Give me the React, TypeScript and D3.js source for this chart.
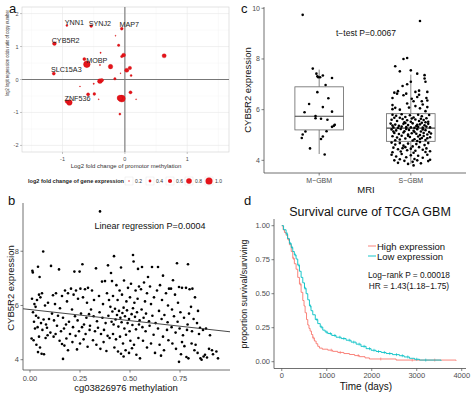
import React from "react";
import * as d3 from "d3";

const FONT = "'Liberation Sans', Arial, Helvetica, sans-serif";

// ---------------- Panel a data ----------------
const geneLabels = ["YNN1", "SYNJ2", "MAP7", "CYB5R2", "MOBP", "SLC15A3", "ZNF536"];
const geneLabelX = [-0.81, -0.4, 0.07, -0.95, -0.45, -0.94, -0.76];
const geneLabelY = [1.73, 1.71, 1.66, 1.19, 0.58, 0.29, -0.58];
const methFold = [-0.93, -0.54, -0.05, -1.13, -0.15, -0.1, -0.39, -0.02, -0.05, 0.63, -0.65, -0.61, -0.4, -0.23, 0.08, 0.03, -0.07, 0.1, -1.14, -0.16, -0.4, -0.37, -0.72, -0.5, -0.59, -0.49, -0.42, -0.05, -0.08, 0.09, 0.18, -0.89, -0.93, -0.08];
const cnOdds = [1.64, 1.62, 1.54, 1.09, 1.33, 1.04, 0.81, 0.74, 0.7, 0.72, 0.62, 0.46, 0.44, 0.39, 0.35, 0.28, 0.19, 0.12, 0.18, 0.02, -0.05, -0.02, -0.21, -0.13, -0.45, -0.44, -0.6, -0.58, -0.56, -0.39, -0.6, -0.7, -0.67, -1.05];
const exprFold = [0.3, 0.4, 0.4, 0.55, 0.15, 0.35, 0.2, 0.55, 0.35, 0.6, 0.45, 0.95, 0.2, 0.65, 0.5, 0.6, 0.15, 0.3, 0.45, 0.35, 0.7, 0.5, 0.15, 0.2, 0.45, 0.4, 0.15, 1.0, 0.8, 0.45, 0.15, 0.8, 0.5, 0.3];
const sizeBreaks = [0.2, 0.4, 0.6, 0.8, 1.0];
const aTicksX = [-1, 0, 1];
const aTicksY = [-2, -1, 0, 1, 2];

// ---------------- Panel b data ----------------
const methPoints: [number, number][] = [
  [0.012, 7.28], [0.014, 7.22], [0.04, 7.43], [0.048, 7.05], [0.066, 7.99],
  [0.01, 6.25], [0.022, 6.05], [0.035, 6.2], [0.045, 6.4], [0.06, 6.45], [0.028, 5.95], [0.052, 6.3], [0.075, 6.0], [0.09, 6.1],
  [0.015, 5.75], [0.03, 5.62], [0.02, 5.4], [0.042, 5.55], [0.055, 5.35], [0.068, 5.48], [0.08, 5.3], [0.095, 5.5], [0.038, 5.2], [0.025, 5.15], [0.062, 5.1], [0.085, 5.18],
  [0.008, 4.78], [0.018, 4.72], [0.045, 4.85], [0.032, 4.55], [0.04, 4.28], [0.058, 4.22], [0.07, 4.2], [0.05, 4.45], [0.088, 4.9], [0.078, 4.8],
  [0.105, 7.46], [0.145, 7.33], [0.115, 6.38], [0.13, 6.45], [0.16, 6.35], [0.175, 6.55], [0.19, 6.45], [0.125, 6.05], [0.15, 5.9], [0.185, 6.15],
  [0.11, 5.7], [0.12, 5.45], [0.14, 5.62], [0.165, 5.55], [0.18, 5.3], [0.195, 5.4], [0.135, 5.25], [0.155, 5.05], [0.17, 5.15], [0.102, 5.0],
  [0.118, 4.85], [0.128, 4.95], [0.148, 4.7], [0.16, 4.58], [0.172, 4.52], [0.182, 4.78], [0.165, 4.03], [0.19, 4.35], [0.2, 4.95],
  [0.222, 7.25], [0.248, 7.25], [0.262, 7.52], [0.205, 6.62], [0.218, 6.4], [0.23, 6.55], [0.252, 6.62], [0.275, 6.6], [0.29, 6.65], [0.24, 6.25], [0.265, 6.3], [0.285, 6.1],
  [0.21, 5.85], [0.225, 5.6], [0.238, 5.45], [0.255, 5.7], [0.27, 5.3], [0.282, 5.55], [0.295, 5.68], [0.215, 5.2], [0.245, 5.05], [0.26, 5.2], [0.278, 4.95], [0.298, 5.1],
  [0.228, 4.88], [0.25, 4.6], [0.235, 4.38], [0.268, 4.75], [0.288, 4.48], [0.212, 4.65],
  [0.35, 9.47], [0.33, 7.37], [0.39, 7.48], [0.36, 6.88], [0.375, 6.9], [0.31, 6.55], [0.32, 6.2], [0.345, 6.35], [0.365, 6.05], [0.385, 6.45], [0.395, 6.2],
  [0.305, 5.85], [0.318, 5.6], [0.335, 5.42], [0.348, 5.75], [0.362, 5.55], [0.378, 5.35], [0.392, 5.62], [0.3, 5.25], [0.325, 5.05], [0.34, 5.18], [0.355, 4.95], [0.37, 5.1], [0.388, 4.88],
  [0.315, 4.72], [0.332, 4.55], [0.352, 4.4], [0.368, 4.65], [0.382, 4.32], [0.398, 4.8],
  [0.42, 7.82], [0.515, 7.86], [0.518, 7.62], [0.405, 7.2], [0.455, 7.4], [0.54, 7.35],
  [0.41, 6.9], [0.432, 6.75], [0.448, 6.55], [0.47, 6.92], [0.49, 6.65], [0.505, 6.8], [0.528, 6.55], [0.545, 6.7], [0.415, 6.35], [0.438, 6.2], [0.46, 6.4], [0.482, 6.15], [0.5, 6.3], [0.522, 6.1], [0.538, 6.25],
  [0.402, 5.95], [0.412, 5.78], [0.425, 5.88], [0.435, 5.65], [0.445, 5.8], [0.452, 5.55], [0.462, 5.72], [0.468, 5.92], [0.475, 5.6], [0.485, 5.82], [0.495, 5.5], [0.508, 5.68], [0.515, 5.9], [0.525, 5.58], [0.535, 5.75], [0.548, 5.45],
  [0.408, 5.4], [0.418, 5.3], [0.428, 5.48], [0.442, 5.22], [0.458, 5.38], [0.472, 5.15], [0.488, 5.35], [0.498, 5.05], [0.512, 5.28], [0.53, 5.12], [0.545, 5.3],
  [0.415, 4.95], [0.43, 4.75], [0.45, 4.85], [0.465, 4.6], [0.48, 4.92], [0.502, 4.7], [0.52, 4.55], [0.542, 4.8],
  [0.422, 4.45], [0.44, 4.3], [0.455, 4.22], [0.468, 4.12], [0.478, 4.35], [0.495, 4.25], [0.51, 4.42], [0.532, 4.18], [0.55, 4.05],
  [0.56, 7.42], [0.61, 7.42], [0.64, 7.42], [0.59, 7.05], [0.665, 7.1],
  [0.555, 6.6], [0.57, 6.85], [0.585, 6.45], [0.6, 6.7], [0.62, 6.3], [0.635, 6.55], [0.65, 6.75], [0.68, 6.45], [0.695, 6.62], [0.575, 6.15], [0.605, 6.05], [0.66, 6.2], [0.69, 6.0],
  [0.558, 5.85], [0.568, 5.55], [0.58, 5.7], [0.595, 5.42], [0.612, 5.62], [0.628, 5.35], [0.645, 5.8], [0.658, 5.5], [0.672, 5.65], [0.688, 5.38],
  [0.562, 5.2], [0.578, 5.05], [0.598, 5.25], [0.618, 4.92], [0.64, 5.15], [0.665, 4.85], [0.685, 5.1],
  [0.565, 4.7], [0.585, 4.45], [0.605, 4.6], [0.625, 4.25], [0.648, 4.55], [0.67, 4.35], [0.692, 4.72], [0.655, 4.15],
  [0.735, 7.56], [0.79, 7.52], [0.715, 6.93], [0.705, 6.62], [0.725, 6.4], [0.745, 6.68], [0.76, 6.65], [0.78, 6.65], [0.798, 6.6], [0.74, 6.1],
  [0.71, 5.85], [0.72, 5.6], [0.738, 5.4], [0.752, 5.75], [0.77, 5.55], [0.788, 5.3], [0.795, 5.7],
  [0.708, 5.2], [0.728, 5.0], [0.748, 5.15], [0.765, 4.9], [0.785, 5.1],
  [0.712, 4.6], [0.73, 4.4], [0.745, 3.92], [0.755, 4.2], [0.772, 4.5], [0.782, 4.1], [0.792, 4.05], [0.76, 4.65],
  [0.812, 6.62], [0.825, 6.3], [0.84, 5.8], [0.805, 5.95], [0.818, 5.5], [0.835, 5.35], [0.85, 5.18], [0.865, 5.1], [0.88, 5.15], [0.81, 5.05], [0.845, 4.95], [0.9, 4.9],
  [0.808, 4.6], [0.822, 4.35], [0.838, 4.25], [0.852, 4.05], [0.858, 4.0], [0.868, 4.12], [0.875, 4.18], [0.885, 4.08], [0.895, 4.4], [0.91, 4.35], [0.932, 4.3], [0.94, 4.05], [0.828, 4.55], [0.915, 4.2],
];
const regIntercept = 5.85;
const regSlope = -0.82;
const bTicksX = [0, 0.25, 0.5, 0.75];
const bTicksY = [4, 6, 8];

// ---------------- Panel c data ----------------
const mriGroups = ["M\u2212GBM", "S\u2212GBM"];
// [q1, median, q3, whiskerLow, whiskerHigh]
const boxM = [5.2, 5.74, 6.9, 4.25, 7.58];
const boxS = [4.75, 5.27, 5.84, 3.85, 7.38];
const mgbmPoints: [number, number][] = [
  [-0.18, 9.74], [-0.07, 7.62], [-0.03, 7.42], [-0.02, 7.32], [-0.01, 7.28], [0.01, 7.28], [0.04, 7.35], [0.14, 7.25], [0.07, 6.97], [-0.02, 6.69],
  [0.1, 6.45], [-0.11, 6.22], [0.04, 6.1], [-0.16, 5.9], [0.14, 5.92], [-0.04, 5.75], [-0.04, 5.66], [0.02, 5.64], [0.09, 5.6], [0.17, 5.4],
  [0.14, 5.32], [0.16, 5.36], [0.08, 5.15], [-0.15, 5.14], [-0.18, 5.02], [-0.19, 4.88], [0.04, 4.94], [0.02, 4.84], [-0.1, 4.47], [0.06, 4.23],
];
const sgbmPoints: [number, number][] = [
  [0.1, 9.5], [-0.08, 8.0], [-0.04, 8.04],
  [-0.17, 7.71], [-0.12, 7.51], [0.0, 7.55], [0.07, 7.42], [0.15, 7.36], [0.15, 7.23], [0.16, 7.1],
  [-0.09, 6.93], [-0.04, 7.0], [0.0, 7.1],
  [-0.14, 6.73], [-0.18, 6.67], [-0.15, 6.63], [0.05, 6.7], [0.09, 6.75], [0.09, 6.59], [0.07, 6.5], [-0.08, 6.57], [-0.05, 6.63], [0.18, 6.7], [0.17, 6.46], [0.18, 6.36], [-0.2, 6.46], [0.01, 6.43], [0.03, 6.33], [0.12, 6.33], [-0.04, 6.24],
  [-0.2, 6.18], [-0.17, 6.07], [0.05, 6.14], [0.18, 6.1], [0.16, 5.94], [-0.12, 6.0], [-0.2, 6.02], [0.1, 6.05], [-0.02, 6.08], [0.13, 6.2],
  [-0.2, 5.8], [-0.16, 5.76], [-0.1, 5.82], [-0.06, 5.71], [-0.01, 5.78], [0.03, 5.69], [0.08, 5.8], [0.12, 5.74], [0.17, 5.66], [0.2, 5.79],
  [-0.21, 5.6], [-0.15, 5.55], [-0.09, 5.63], [-0.04, 5.58], [0.0, 5.52], [0.05, 5.61], [0.09, 5.55], [0.14, 5.59], [0.19, 5.52], [-0.12, 5.68],
  [-0.18, 5.68], [0.01, 5.65], [0.11, 5.64], [-0.07, 5.5], [0.16, 5.5],
  [-0.22, 5.45], [-0.17, 5.41], [-0.13, 5.36], [-0.08, 5.44], [-0.03, 5.39], [0.02, 5.46], [0.06, 5.35], [0.1, 5.42], [0.15, 5.38], [0.19, 5.44],
  [-0.19, 5.3], [-0.14, 5.28], [-0.1, 5.33], [-0.05, 5.31], [0.0, 5.3], [0.04, 5.28], [0.08, 5.32], [0.13, 5.29], [0.17, 5.33], [0.21, 5.3],
  [-0.06, 5.47], [0.12, 5.48], [-0.2, 5.37], [0.07, 5.4],
  [-0.21, 5.22], [-0.16, 5.18], [-0.11, 5.24], [-0.07, 5.15], [-0.02, 5.2], [0.03, 5.17], [0.07, 5.23], [0.11, 5.14], [0.16, 5.19], [0.2, 5.12],
  [-0.18, 5.08], [-0.13, 5.04], [-0.08, 5.1], [-0.03, 5.02], [0.01, 5.07], [0.06, 5.05], [0.1, 5.0], [0.14, 5.08], [0.18, 5.02], [0.22, 5.06],
  [-0.05, 5.24], [0.13, 5.22], [-0.19, 5.14], [0.04, 5.12],
  [-0.2, 4.95], [-0.15, 4.9], [-0.1, 4.97], [-0.06, 4.86], [-0.01, 4.92], [0.04, 4.83], [0.08, 4.94], [0.12, 4.88], [0.16, 4.8], [0.21, 4.91],
  [-0.17, 4.79], [-0.12, 4.82], [0.02, 4.78], [0.07, 4.76], [0.14, 4.96], [-0.03, 4.97], [0.1, 4.84], [0.18, 4.87],
  [-0.21, 4.7], [-0.17, 4.62], [-0.12, 4.68], [-0.08, 4.58], [-0.03, 4.66], [0.02, 4.55], [0.06, 4.64], [0.1, 4.72], [0.15, 4.6], [0.19, 4.68],
  [-0.19, 4.5], [-0.14, 4.44], [-0.09, 4.48], [-0.04, 4.4], [0.0, 4.46], [0.05, 4.38], [0.09, 4.52], [0.13, 4.42], [0.17, 4.47], [0.21, 4.36],
  [-0.2, 4.32], [-0.11, 4.35], [0.03, 4.3], [0.16, 4.33], [-0.06, 4.52],
  [-0.21, 4.22], [-0.16, 4.15], [-0.1, 4.25], [-0.05, 4.12], [0.0, 4.2], [0.04, 4.05], [0.08, 4.18], [0.13, 4.1], [0.18, 4.22], [0.21, 4.02],
  [-0.18, 4.0], [-0.12, 4.04], [-0.07, 3.98], [0.02, 3.94], [0.07, 4.0], [0.19, 3.97], [-0.14, 3.9], [0.03, 3.8], [-0.03, 3.86], [0.11, 3.88],
];
const cTicksY = [4, 6, 8, 10];

// ---------------- Panel d data ----------------
const highTime = [0, 30, 60, 96, 130, 170, 210, 244, 280, 318, 355, 393, 430, 467, 495, 519, 550, 578, 605, 630, 660, 689, 725, 763, 800, 837, 900, 1022, 1130, 1244, 1380, 1504, 1620, 1726, 1850, 1948, 2541, 3874];
const highSurv = [1.0, 0.97, 0.95, 0.93, 0.9, 0.86, 0.81, 0.76, 0.72, 0.68, 0.62, 0.57, 0.51, 0.45, 0.41, 0.36, 0.31, 0.27, 0.245, 0.225, 0.2, 0.175, 0.152, 0.132, 0.113, 0.1, 0.092, 0.085, 0.076, 0.068, 0.06, 0.053, 0.045, 0.037, 0.028, 0.02, 0.012, 0.007];
const lowTime = [0, 40, 96, 130, 170, 210, 244, 280, 318, 355, 393, 430, 467, 505, 541, 578, 615, 650, 689, 745, 800, 855, 911, 965, 1022, 1110, 1207, 1320, 1430, 1540, 1652, 1760, 1874, 1985, 2096, 2210, 2319, 2460, 2615, 2720, 2837, 2950, 3059, 3541];
const lowSurv = [1.0, 0.97, 0.94, 0.905, 0.87, 0.84, 0.81, 0.785, 0.755, 0.71, 0.665, 0.62, 0.58, 0.54, 0.5, 0.455, 0.41, 0.375, 0.345, 0.31, 0.28, 0.255, 0.232, 0.218, 0.207, 0.193, 0.18, 0.17, 0.158, 0.144, 0.129, 0.113, 0.096, 0.084, 0.075, 0.068, 0.06, 0.052, 0.044, 0.035, 0.025, 0.018, 0.012, 0.007];
const highCensor = [150, 260, 420, 700, 1100, 1300, 1700, 2200, 2900, 3400];
const lowCensor = [120, 190, 230, 300, 380, 520, 640, 780, 880, 1000, 1080, 1180, 1290, 1380, 1500, 1600, 1720, 1830, 1950, 2050, 2150, 2280, 2400, 2550, 2680, 2800, 3000, 3200];
const dTicksX = [0, 1000, 2000, 3000, 4000];
const dTicksY = [0, 0.25, 0.5, 0.75, 1.0];
const survLegend = ["High expression", "Low expression"];
const survColors = ["#F8766D", "#00BFC4"];

const AXIS = "#4d4d4d";
const TICKTXT = "#4d4d4d";

function PanelA() {
  const x = d3.scaleLinear().domain([-1.65, 1.67]).range([22, 229]);
  const y = d3.scaleLinear().domain([-2.2, 2.2]).range([152, 7]);
  const r = d3.scaleLinear().domain([0.2, 1.0]).range([0.7, 3.5]);
  const minorX = [-1.5, -0.5, 0.5, 1.5];
  const minorY = [-1.5, -0.5, 0.5, 1.5];
  const legKeyX = [129, 150, 170, 189, 209];
  return (
    <g fontFamily={FONT}>
      <rect x={22} y={7} width={207} height={145} fill="#fff" />
      {minorX.map((v) => <line key={"mx" + v} x1={x(v)} x2={x(v)} y1={7} y2={152} stroke="#f2f2f2" strokeWidth={0.4} />)}
      {minorY.map((v) => <line key={"my" + v} x1={22} x2={229} y1={y(v)} y2={y(v)} stroke="#f2f2f2" strokeWidth={0.4} />)}
      {aTicksX.map((v) => <line key={"gx" + v} x1={x(v)} x2={x(v)} y1={7} y2={152} stroke="#e8e8e8" strokeWidth={0.6} />)}
      {aTicksY.map((v) => <line key={"gy" + v} x1={22} x2={229} y1={y(v)} y2={y(v)} stroke="#e8e8e8" strokeWidth={0.6} />)}
      <rect x={22} y={7} width={207} height={145} fill="none" stroke="#cfcfcf" strokeWidth={0.6} />
      <line x1={x(0)} x2={x(0)} y1={7} y2={152} stroke="#777" strokeWidth={1.1} />
      <line x1={22} x2={229} y1={y(0)} y2={y(0)} stroke="#777" strokeWidth={1.1} />
      {methFold.map((v, i) => (
        <circle key={"p" + i} cx={x(v)} cy={y(cnOdds[i])} r={r(exprFold[i])} fill="#e4141b" stroke="#c00" strokeWidth={0.3} />
      ))}
      {geneLabels.map((g, i) => (
        <text key={g} x={x(geneLabelX[i])} y={y(geneLabelY[i])} fontSize={7.2} fill="#222" textAnchor="middle" dominantBaseline="central">{g}</text>
      ))}
      {aTicksX.map((v) => (
        <g key={"tx" + v}>
          <line x1={x(v)} x2={x(v)} y1={152} y2={154} stroke="#888" strokeWidth={0.5} />
          <text x={x(v)} y={158.5} fontSize={5.5} fill={TICKTXT} textAnchor="middle" dominantBaseline="central">{v}</text>
        </g>
      ))}
      {aTicksY.map((v) => (
        <g key={"ty" + v}>
          <line x1={20} x2={22} y1={y(v)} y2={y(v)} stroke="#888" strokeWidth={0.5} />
          <text x={18.5} y={y(v)} fontSize={5.5} fill={TICKTXT} textAnchor="end" dominantBaseline="central">{v}</text>
        </g>
      ))}
      <text x={126} y={165.5} fontSize={6} fill="#333" textAnchor="middle" dominantBaseline="central">Log2 fold change of promotor methylation</text>
      <text transform="translate(7,53) rotate(-90)" fontSize={4.6} fill="#333" textAnchor="middle" dominantBaseline="central" textLength={86} lengthAdjust="spacingAndGlyphs">log2 logit regression odds ratio of copy number</text>
      <text x={28} y={181} fontSize={5} fontWeight="bold" fill="#222" dominantBaseline="central" textLength={96} lengthAdjust="spacingAndGlyphs">log2 fold change of gene expression</text>
      {sizeBreaks.map((s, i) => (
        <g key={"lk" + s}>
          <rect x={legKeyX[i] - 4} y={177} width={8} height={8} fill="#fff" stroke="#e0e0e0" strokeWidth={0.4} />
          <circle cx={legKeyX[i]} cy={181} r={r(s)} fill="#e4141b" />
          <text x={legKeyX[i] + 6} y={181} fontSize={5} fill="#333" dominantBaseline="central">{s.toFixed(1)}</text>
        </g>
      ))}
      <text x={9} y={8} fontSize={13} fill="#111" dominantBaseline="central">a</text>
    </g>
  );
}

function PanelB() {
  const x = d3.scaleLinear().domain([-0.035, 1.0]).range([23, 230]);
  const y = d3.scaleLinear().domain([3.62, 9.78]).range([370, 203]);
  const [x0, x1] = x.domain();
  return (
    <g fontFamily={FONT}>
      {methPoints.map((p, i) => <circle key={i} cx={x(p[0])} cy={y(p[1])} r={1.3} fill="#000" />)}
      <line x1={x(x0)} y1={y(regIntercept + regSlope * x0)} x2={x(x1)} y2={y(regIntercept + regSlope * x1)} stroke="#333" strokeWidth={0.9} />
      <line x1={23} x2={23} y1={203} y2={370} stroke={AXIS} strokeWidth={0.8} />
      <line x1={23} x2={230} y1={370} y2={370} stroke={AXIS} strokeWidth={0.8} />
      {bTicksY.map((v) => (
        <g key={v}>
          <line x1={20.5} x2={23} y1={y(v)} y2={y(v)} stroke={AXIS} strokeWidth={0.7} />
          <text x={19} y={y(v)} fontSize={7.5} fill={TICKTXT} textAnchor="end" dominantBaseline="central">{v}</text>
        </g>
      ))}
      {bTicksX.map((v) => (
        <g key={v}>
          <line x1={x(v)} x2={x(v)} y1={370} y2={372.5} stroke={AXIS} strokeWidth={0.7} />
          <text x={x(v)} y={378} fontSize={7.5} fill={TICKTXT} textAnchor="middle" dominantBaseline="central">{v.toFixed(2)}</text>
        </g>
      ))}
      <text x={126} y={387.5} fontSize={9.5} fill="#111" textAnchor="middle" dominantBaseline="central">cg03826976 methylation</text>
      <text transform="translate(10,288) rotate(-90)" fontSize={9.5} fill="#111" textAnchor="middle" dominantBaseline="central">CYB5R2 expression</text>
      <text x={150} y={226} fontSize={9} fill="#111" textAnchor="middle" dominantBaseline="central">Linear regression P=0.0004</text>
      <text x={8} y={200} fontSize={13} fill="#111" dominantBaseline="central">b</text>
    </g>
  );
}

function PanelC() {
  const x = d3.scaleLinear().domain([0.4, 2.6]).range([264.2, 465.8]);
  const y = d3.scaleLinear().domain([3.5, 10.05]).range([173, 7]);
  const half = 0.265;
  const boxes = [boxM, boxS];
  const groups = [mgbmPoints, sgbmPoints];
  return (
    <g fontFamily={FONT}>
      {boxes.map((b, i) => {
        const cx = x(i + 1);
        return (
          <g key={i} stroke="#666" strokeWidth={0.8} fill="none">
            <line x1={cx} x2={cx} y1={y(b[2])} y2={y(b[4])} />
            <line x1={cx} x2={cx} y1={y(b[0])} y2={y(b[3])} />
            <rect x={x(i + 1 - half)} y={y(b[2])} width={x(i + 1 + half) - x(i + 1 - half)} height={y(b[0]) - y(b[2])} fill="#fff" />
            <line x1={x(i + 1 - half)} x2={x(i + 1 + half)} y1={y(b[1])} y2={y(b[1])} stroke="#444" strokeWidth={1.2} />
          </g>
        );
      })}
      {groups.map((pts, gi) => pts.map((p, i) => (
        <circle key={gi + "-" + i} cx={x(gi + 1 + p[0])} cy={y(p[1])} r={1.3} fill="#000" />
      )))}
      <line x1={264} x2={264} y1={7} y2={173} stroke={AXIS} strokeWidth={0.8} />
      <line x1={264} x2={466} y1={173} y2={173} stroke={AXIS} strokeWidth={0.8} />
      {cTicksY.map((v) => (
        <g key={v}>
          <line x1={261.5} x2={264} y1={y(v)} y2={y(v)} stroke={AXIS} strokeWidth={0.7} />
          <text x={260} y={y(v)} fontSize={7} fill={TICKTXT} textAnchor="end" dominantBaseline="central">{v}</text>
        </g>
      ))}
      {mriGroups.map((g, i) => (
        <g key={g}>
          <line x1={x(i + 1)} x2={x(i + 1)} y1={173} y2={175.5} stroke={AXIS} strokeWidth={0.7} />
          <text x={x(i + 1)} y={180.5} fontSize={7} fill={TICKTXT} textAnchor="middle" dominantBaseline="central">{g}</text>
        </g>
      ))}
      <text x={366} y={189} fontSize={9.5} fill="#111" textAnchor="middle" dominantBaseline="central">MRI</text>
      <text transform="translate(247,90) rotate(-90)" fontSize={9.5} fill="#111" textAnchor="middle" dominantBaseline="central">CYB5R2 expression</text>
      <text x={366} y={33} fontSize={8.5} fill="#111" textAnchor="middle" dominantBaseline="central">t{"\u2212"}test P=0.0067</text>
      <text x={241} y={8} fontSize={13} fill="#111" dominantBaseline="central">c</text>
    </g>
  );
}

function PanelD() {
  const x = d3.scaleLinear().domain([-195, 4095]).range([273, 466]);
  const y = d3.scaleLinear().domain([-0.05, 1.05]).range([368.5, 218.9]);
  const line = d3.line<[number, number]>().x((d) => x(d[0])).y((d) => y(d[1])).curve(d3.curveStepAfter);
  const series = [
    { t: highTime, s: highSurv, c: highCensor },
    { t: lowTime, s: lowSurv, c: lowCensor },
  ];
  const stepAt = (t: number[], s: number[], v: number) => s[Math.max(0, d3.bisectRight(t, v) - 1)];
  return (
    <g fontFamily={FONT}>
      {series.map((se, i) => (
        <g key={i}>
          <path d={line(d3.zip(se.t, se.s) as [number, number][]) || ""} fill="none" stroke={survColors[i]} strokeWidth={0.9} />
          {se.c.map((ct) => {
            const cy = y(stepAt(se.t, se.s, ct));
            return <line key={ct} x1={x(ct)} x2={x(ct)} y1={cy - 1.5} y2={cy + 1.5} stroke={survColors[i]} strokeWidth={0.6} />;
          })}
        </g>
      ))}
      <line x1={274} x2={274} y1={219} y2={368.5} stroke={AXIS} strokeWidth={0.8} />
      <line x1={274} x2={466} y1={368.5} y2={368.5} stroke={AXIS} strokeWidth={0.8} />
      {dTicksY.map((v) => (
        <g key={v}>
          <line x1={271.5} x2={274} y1={y(v)} y2={y(v)} stroke={AXIS} strokeWidth={0.7} />
          <text x={270} y={y(v)} fontSize={7.5} fill={TICKTXT} textAnchor="end" dominantBaseline="central">{v.toFixed(2)}</text>
        </g>
      ))}
      {dTicksX.map((v) => (
        <g key={v}>
          <line x1={x(v)} x2={x(v)} y1={368.5} y2={371} stroke={AXIS} strokeWidth={0.7} />
          <text x={x(v)} y={375.5} fontSize={7.5} fill={TICKTXT} textAnchor="middle" dominantBaseline="central">{v}</text>
        </g>
      ))}
      <text x={366} y={386} fontSize={10} fill="#111" textAnchor="middle" dominantBaseline="central">Time (days)</text>
      <text transform="translate(244,294) rotate(-90)" fontSize={8.8} fill="#111" textAnchor="middle" dominantBaseline="central">proportion survival/surviving</text>
      <text x={370} y={212} fontSize={12.5} fill="#111" textAnchor="middle" dominantBaseline="central">Survival curve of TCGA GBM</text>
      {survLegend.map((l, i) => (
        <g key={l}>
          <line x1={368} x2={376} y1={246 + i * 10} y2={246 + i * 10} stroke={survColors[i]} strokeWidth={0.9} />
          <text x={377} y={246 + i * 10} fontSize={9.5} fill="#111" dominantBaseline="central">{l}</text>
        </g>
      ))}
      <text x={409} y={275} fontSize={8.3} fill="#111" textAnchor="middle" dominantBaseline="central">Log{"\u2212"}rank P = 0.00018</text>
      <text x={409} y={286} fontSize={8.3} fill="#111" textAnchor="middle" dominantBaseline="central">HR = 1.43(1.18{"\u2212"}1.75)</text>
      <text x={244} y={200} fontSize={13} fill="#111" dominantBaseline="central">d</text>
    </g>
  );
}

export default function App() {
  return (
    <svg width={474} height={395} style={{ position: "absolute", left: 0, top: 0, background: "#fff" }}>
      <rect x={0} y={0} width={474} height={395} fill="#fff" />
      <PanelA />
      <PanelB />
      <PanelC />
      <PanelD />
    </svg>
  );
}
